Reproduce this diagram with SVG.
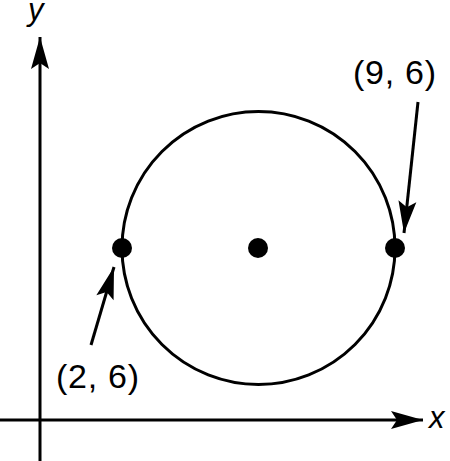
<svg xmlns="http://www.w3.org/2000/svg" width="450" height="461" viewBox="0 0 450 461">
<defs>
<style>
.ln{stroke:#000;stroke-width:3;fill:none}
.lbl{font-family:"Liberation Sans",Arial,sans-serif;font-size:34px;fill:#000}
.ax{font-family:"Liberation Sans",Arial,sans-serif;font-size:31px;font-style:italic;fill:#000}
</style>
<marker id="ah" markerUnits="userSpaceOnUse" markerWidth="40" markerHeight="24" viewBox="-32 -12 34 24" refX="0" refY="0" orient="auto">
<path d="M0,0 L-32,-9 L-26,0 L-32,9 Z" fill="#000"/>
</marker>
</defs>
<rect width="450" height="461" fill="#fff"/>
<g id="axes">
<line class="ln" x1="40" y1="461" x2="40" y2="37" marker-end="url(#ah)"/>
<line class="ln" x1="0" y1="420" x2="423" y2="420" marker-end="url(#ah)"/>
<text class="ax" x="28" y="20">y</text>
<text class="ax" x="429" y="428">x</text>
</g>
<g id="circle">
<circle class="ln" cx="258.5" cy="248" r="136.5"/>
<circle cx="258" cy="248" r="10" fill="#000"/>
</g>
<g id="p1">
<circle cx="122" cy="248" r="10" fill="#000"/>
<text class="lbl" x="56" y="388" textLength="83">(2, 6)</text>
</g>
<g id="p2">
<circle cx="395" cy="248" r="10" fill="#000"/>
<text class="lbl" x="353" y="84" textLength="83">(9, 6)</text>
</g>
<g id="connectors">
<line class="ln" x1="91" y1="345" x2="114" y2="267" marker-end="url(#ah)"/>
<line class="ln" x1="418" y1="102" x2="404" y2="233" marker-end="url(#ah)"/>
</g>
</svg>
